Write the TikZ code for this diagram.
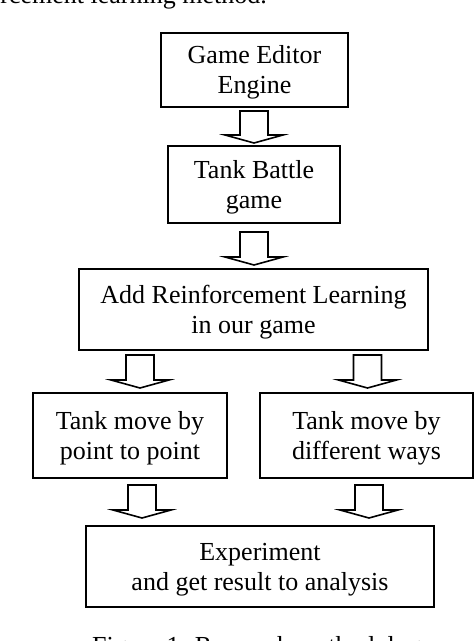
\documentclass[tikz,border=0pt]{standalone}
\usepackage{fontspec}
\setmainfont{Liberation Serif}
\usetikzlibrary{calc}
\tikzset{
  box/.style={draw, line width=1.6pt, align=center, inner sep=0pt, text height=47.5pt, text depth=0pt, font=\fontsize{26}{30}\selectfont},
  blockarrow/.style={draw, line width=1.6pt, line join=miter, fill=white},
  plaintext/.style={inner sep=0pt, font=\fontsize{26}{30}\selectfont}
}
\newcommand{\barrow}[3]{%
  \draw[blockarrow] ({#1-14},{#2}) -- ({#1-14},{#3-8}) -- ({#1-29},{#3-8}) -- ({#1},{#3}) -- ({#1+29},{#3-8}) -- ({#1+14},{#3-8}) -- ({#1+14},{#2}) -- cycle;}
\begin{document}
\begin{tikzpicture}[x=1pt, y=-1pt]
\clip (0,0) rectangle (474,641);
\fill[white] (0,0) rectangle (474,641);

\node[plaintext, anchor=base east] (toptext) at (267,3) {orcement learning method.};

\node[box, minimum width=187pt, minimum height=74pt] (b1) at (254.5,70) {Game Editor\\Engine};
\node[box, minimum width=172pt, minimum height=77pt] (b2) at (254,184.5) {Tank Battle\\game};
\node[box, minimum width=349pt, minimum height=81pt] (b3) at (253.5,309.5) {Add Reinforcement Learning\\in our game};
\node[box, minimum width=194pt, minimum height=85pt] (b4l) at (130,435.5) {Tank move by\\point to point};
\node[box, minimum width=213pt, minimum height=85pt] (b4r) at (366.5,435.5) {Tank move by\\different ways};
\node[box, minimum width=348pt, minimum height=81pt] (b5) at (260,566.5) {Experiment\\and get result to analysis};

\barrow{254}{111}{143}
\barrow{254}{232}{265}
\barrow{140}{355}{388}
\barrow{367.5}{355}{388}
\barrow{142}{485}{518}
\barrow{369}{485}{518}

\node[plaintext, anchor=base] (caption) at (263,654) {Figure 1. Research methodology};
\end{tikzpicture}
\end{document}
